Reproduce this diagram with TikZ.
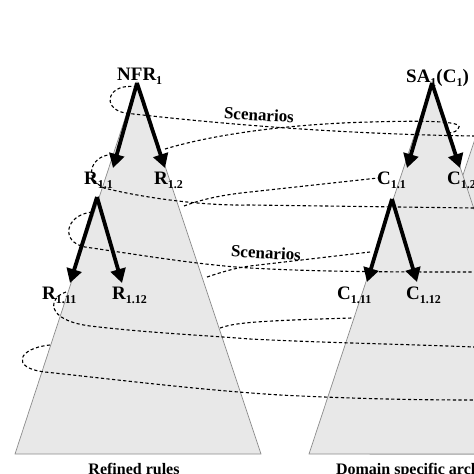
\documentclass[tikz,border=0pt]{standalone}
\usepackage{fontspec}
\setmainfont{Liberation Serif}
\usetikzlibrary{arrows.meta}
\newcommand\labsub[2]{#1\raisebox{-4.5pt}{\fontsize{12}{12}\selectfont #2}}
\begin{document}
\begin{tikzpicture}[x=1pt,y=-1pt,
  tri/.style={fill=black!9,draw=black!45,line width=0.7pt},
  arr/.style={line width=3.8pt,-{Triangle[length=14pt,width=15pt]}},
  scen/.style={dash pattern=on 3.2pt off 2.4pt,line width=1.1pt},
  lab/.style={font=\fontsize{19}{21}\selectfont\bfseries,inner sep=0pt,anchor=base west},
  sclab/.style={font=\fontsize{17}{20}\selectfont\bfseries,inner sep=0pt,rotate=-3},
  capt/.style={font=\fontsize{16}{18}\selectfont\bfseries,inner sep=0pt,anchor=base}]
\useasboundingbox (0,0) rectangle (474,474);
\clip (0,0) rectangle (474,474);
\fill[white] (0,0) rectangle (474,474);
% triangles
\draw[tri] (494,82) -- (370,454) -- (620,454) -- cycle;
\draw[tri] (432,82) -- (309,454) -- (555,454) -- cycle;
\draw[tri] (137,82) -- (15,454) -- (261,454) -- cycle;
% scenario spirals
\draw[scen] (137,87) .. controls (108,82) and (100,108) .. (125,113)
  .. controls (220,124) and (340,134) .. (474,136);
\draw[scen] (165,149) .. controls (215,134) and (290,124) .. (370,122)
  .. controls (440,120) and (465,122) .. (458,129)
  .. controls (455,133) and (450,133) .. (446,133);
\draw[scen] (113,155) .. controls (95,153) and (80,176) .. (104,188)
  .. controls (140,197) and (200,206) .. (250,205) -- (474,208);
\draw[scen] (184,206) .. controls (200,200) and (220,195) .. (250,192) -- (378,178);
\draw[scen] (92,212) .. controls (65,215) and (60,242) .. (85,247)
  .. controls (140,255) and (200,265) .. (250,268)
  .. controls (320,272) and (400,272) .. (474,272);
\draw[scen] (207,277) .. controls (222,272) and (235,268) .. (250,266) -- (370,252);
\draw[scen] (66,292) .. controls (48,298) and (45,320) .. (90,326)
  .. controls (150,333) and (200,335) .. (250,339)
  .. controls (330,343) and (400,344) .. (474,347);
\draw[scen] (220,328) .. controls (235,323) and (250,321) .. (352,318);
\draw[scen] (50,345) .. controls (18,348) and (10,368) .. (45,372)
  .. controls (120,380) and (200,390) .. (280,395)
  .. controls (360,399) and (420,400) .. (474,400);
% labels
\node[lab] (nfr) at (117,80) {\labsub{NFR}{1}};
\node[lab] (sa) at (406,82) {\labsub{SA}{1}(\labsub{C}{1})};
\node[lab] (r11) at (84,184) {\labsub{R}{1.1}};
\node[lab] (r12) at (154,184) {\labsub{R}{1.2}};
\node[lab] (c11) at (377,184) {\labsub{C}{1.1}};
\node[lab] (c12) at (447,184) {\labsub{C}{1.2}};
\node[lab] (r111) at (42,299) {\labsub{R}{1.11}};
\node[lab] (r112) at (112,299) {\labsub{R}{1.12}};
\node[lab] (c111) at (337,299) {\labsub{C}{1.11}};
\node[lab] (c112) at (406,299) {\labsub{C}{1.12}};
\node[sclab] (sc1) at (259,115) {Scenarios};
\node[sclab] (sc2) at (266,253) {Scenarios};
\node[capt] (cap1) at (134,474) {Refined rules};
\node[capt] (cap2) at (434,474) {Domain specific architecture};
% arrow end points
\coordinate (a0) at (137,83);
\coordinate (a1) at (113,168);
\coordinate (a2) at (165,168);
\coordinate (b0) at (97,197);
\coordinate (b1) at (70,283);
\coordinate (b2) at (122,283);
\coordinate (c0) at (432,83);
\coordinate (c1) at (407,168);
\coordinate (c2) at (460,168);
\coordinate (d0) at (392,199);
\coordinate (d1) at (367,282);
\coordinate (d2) at (417,282);
\draw[arr] (a0) -- (a1);
\draw[arr] (a0) -- (a2);
\draw[arr] (b0) -- (b1);
\draw[arr] (b0) -- (b2);
\draw[arr] (c0) -- (c1);
\draw[arr] (c0) -- (c2);
\draw[arr] (d0) -- (d1);
\draw[arr] (d0) -- (d2);
\end{tikzpicture}
\end{document}
